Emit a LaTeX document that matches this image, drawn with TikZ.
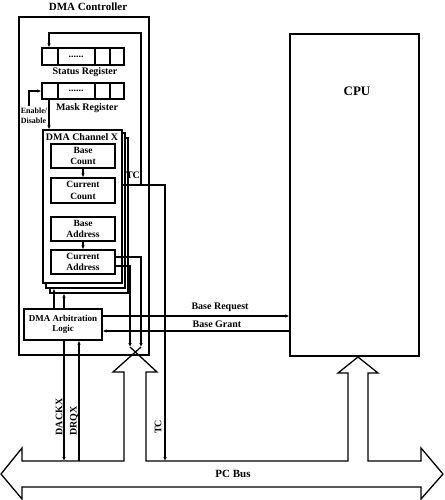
\documentclass[tikz,border=0pt]{standalone}
\usepackage{fontspec}
\setmainfont{Liberation Serif}
\usetikzlibrary{
  arrows.meta,
  positioning,
}
\tikzstyle{arrow} = [
  -{Latex[length=4pt,width=3.5pt]},
]
\tikzstyle{box} = [
  draw,
  fill=white,
  inner sep=0pt,
  align=center,
  font=\fontsize{9.5}{11.5}\selectfont\bfseries,
]
\tikzstyle{lbl} = [
  inner sep=0pt,
  font=\fontsize{10}{12}\selectfont\bfseries,
]

\begin{document}
\begin{tikzpicture}[x=1pt, y=-1pt, line width=1.3pt]
  \useasboundingbox (0,0) rectangle (444,500);

  \node [box, minimum width=130, minimum height=338] (ctrl) at (84,186) {};
  \node [lbl, font=\fontsize{11}{13}\selectfont\bfseries] (ctrltitle) at (88,7) {DMA Controller};

  \node [box, minimum width=82, minimum height=17] (status) at (83,56.5) {};
  \node [box, minimum width=82, minimum height=16] (mask) at (83,91) {};
  \foreach \x in {58, 95, 110} {
    \draw (\x,48) -- (\x,65);
    \draw (\x,83) -- (\x,99);
  }
  \node [lbl] (statusdots) at (76,57) {......};
  \node [lbl] (maskdots) at (76,91) {......};
  \node [lbl] (statuslbl) at (85,72) {Status Register};
  \node [lbl] (masklbl) at (87,108) {Mask Register};
  \node [lbl, font=\fontsize{8}{10.5}\selectfont\bfseries, align=left] (enable) at (34,116) {Enable/\\Disable};

  \node [box, minimum width=78, minimum height=155] (chan3) at (89,215.5) {};
  \node [box, minimum width=79, minimum height=155] (chan2) at (85.5,210.5) {};
  \node [box, minimum width=79, minimum height=153] (chan) at (82.5,206.5) {};
  \node [lbl] (chantitle) at (82,137) {DMA Channel X};

  \node [box, minimum width=64, minimum height=24] (basecount) at (83,156) {Base\\Count};
  \node [box, minimum width=64, minimum height=25] (curcount) at (83,190.5) {Current\\Count};
  \node [box, minimum width=64, minimum height=24] (baseaddr) at (83,229) {Base\\Address};
  \node [box, minimum width=64, minimum height=24] (curaddr) at (83,262) {Current\\Address};
  \draw [arrow] (basecount) -- (curcount);
  \draw [arrow] (baseaddr) -- (curaddr);

  \node [box, minimum width=78, minimum height=31, font=\fontsize{9}{10.5}\selectfont\bfseries] (arb) at (63,324.5) {DMA Arbitration\\Logic};

  \node [box, minimum width=129, minimum height=322] (cpu) at (354.5,195) {};
  \node [lbl, font=\fontsize{13}{15}\selectfont\bfseries] (cpulbl) at (357,91) {CPU};

  \coordinate (addrhi) at (141,347);
  \coordinate (addrlo) at (130,347);
  \coordinate (tcsplit) at (141,185);
  \coordinate (tctop) at (141,33);
  \coordinate (tcbus) at (165,461);
  \coordinate (dackbus) at (64,461);
  \coordinate (drqbus) at (79,461);
  \coordinate (enin) at (29,106);

  \draw (addrhi) -- (113,372) -- (124,372) -- (124,461) -- (22,461) -- (22,448) -- (1,474) -- (22,499) -- (22,487)
    -- (421,487) -- (421,499) -- (443,474) -- (421,448) -- (421,461) -- (368,461) -- (368,373) -- (378,373)
    -- (358,357) -- (338,373) -- (348,373) -- (348,461) -- (146,461) -- (146,372) -- (157,372) -- (addrlo);
  \node [lbl, font=\fontsize{11}{13}\selectfont\bfseries] (buslbl) at (233,474) {PC Bus};

  \draw [arrow] (enin) |- (mask.west);
  \draw [arrow] ([xshift=-34pt]mask.south) -- ([xshift=-34pt]mask.south |- chan.north);
  \draw [arrow] (tcsplit) -- (tctop) -| ([xshift=-34pt]status.north);
  \draw [arrow] (chan.east |- tcsplit) -| (tcbus);
  \node [lbl] (tclbl) at (133,175) {TC};

  \draw [arrow] ([yshift=5pt]curaddr.east) -| (addrhi);
  \draw [arrow] ([yshift=-4pt]curaddr.east) -| (addrlo);

  \draw [arrow] ([xshift=-9pt]arb.north) -- ([xshift=-9pt]arb.north |- chan2.south);
  \draw [arrow] ([xshift=1pt]arb.north) -- ([xshift=1pt]arb.north |- chan3.south);
  \draw [arrow] (arb.south -| dackbus) -- (dackbus);
  \draw [arrow] (drqbus) -- (arb.south -| drqbus);
  \node [lbl, rotate=90] (dacklbl) at (59,417) {DACKX};
  \node [lbl, rotate=90] (drqlbl) at (74,421) {DRQX};
  \node [lbl, rotate=90] (tcbuslbl) at (158,427) {TC};

  \draw [arrow] ([yshift=8.5pt]arb.east) -- ([yshift=8.5pt]arb.east -| cpu.west);
  \draw [arrow] ([yshift=-6.5pt]arb.east -| cpu.west) -- ([yshift=-6.5pt]arb.east);
  \node [lbl] (reqlbl) at (220,307) {Base Request};
  \node [lbl] (grantlbl) at (217,324) {Base Grant};
\end{tikzpicture}
\end{document}
